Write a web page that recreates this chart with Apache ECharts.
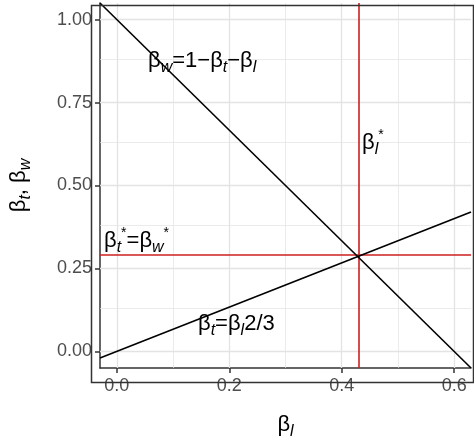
<!DOCTYPE html>
<html>
<head>
<meta charset="utf-8">
<script src="https://cdn.jsdelivr.net/npm/echarts@6/dist/echarts.min.js"></script>
</head>
<body style="margin:0">
<div id="main" style="width:474px;height:445px;"></div>
<script>
var xTicks = [0, 0.2, 0.4, 0.6];
var yTicks = [0, 0.25, 0.5, 0.75, 1.0];
var xMinor = [0.1, 0.3, 0.5];
var yMinor = [0.125, 0.375, 0.625, 0.875];
var lineW = [[-0.03, 1.05], [0.63, -0.05]];   // beta_w = 1 - beta_t - beta_l
var lineT = [[-0.03, -0.02], [0.63, 0.42]];   // beta_t = 2 beta_l / 3
var betaLStar = 0.4286;
var betaTStar = 0.2857;

var chart = echarts.init(document.getElementById('main'));
var F = 'Liberation Sans, Arial, sans-serif';
var rich = {
  n: {fontSize: 22, fontFamily: F, color: '#000', lineHeight: 30},
  s: {fontSize: 16, fontFamily: F, fontStyle: 'italic', color: '#000', verticalAlign: 'bottom', lineHeight: 22},
  p: {fontSize: 14, fontFamily: F, color: '#000', verticalAlign: 'top', lineHeight: 12}
};
function gridLines(vals, axis, w) {
  return vals.map(function (v) { var o = {}; o[axis] = v; o.lineStyle = {width: w}; return o; });
}
function txt(x, y, t) {
  return {type: 'text', left: x, top: y, z: 50, style: {text: t, rich: rich, font: '22px ' + F}};
}
chart.setOption({
  animation: false,
  grid: {left: 89, right: 3, top: 3, bottom: 65},
  xAxis: {
    type: 'value', min: -0.03, max: 0.63,
    name: '{n|β}{s|l}', nameLocation: 'middle', nameGap: 42,
    nameTextStyle: {rich: rich},
    axisLine: {onZero: false, lineStyle: {color: '#333', width: 1.5}},
    axisTick: {show: true, customValues: xTicks, length: 5, lineStyle: {color: '#333', width: 1.5}},
    axisLabel: {customValues: xTicks, color: '#4d4d4d', fontSize: 18, fontFamily: F, margin: 9,
      formatter: function (v) { return v.toFixed(1); }},
    splitLine: {show: false}
  },
  yAxis: {
    type: 'value', min: -0.05, max: 1.05,
    name: '{n|β}{s|t}{n|, β}{s|w}', nameLocation: 'middle', nameGap: 66,
    nameTextStyle: {rich: rich},
    axisLine: {show: true, onZero: false, lineStyle: {color: '#333', width: 1.5}},
    axisTick: {show: true, customValues: yTicks, length: 5, lineStyle: {color: '#333', width: 1.5}},
    axisLabel: {customValues: yTicks, color: '#4d4d4d', fontSize: 18, fontFamily: F, margin: 8,
      formatter: function (v) { return v.toFixed(2); }},
    splitLine: {show: false}
  },
  graphic: [
    {type: 'rect', left: 89, top: 3, shape: {width: 382, height: 377}, style: {fill: 'none', stroke: '#333', lineWidth: 1.5}, z: 100},
    txt(148, 50, '{n|β}{s|w}{n|=1−β}{s|t}{n|−β}{s|l}'),
    txt(362, 128, '{n|β}{s|l}{p|*}'),
    txt(104, 226, '{n|β}{s|t}{p|*}{n|=β}{s|w}{p|*}'),
    txt(198, 313, '{n|β}{s|t}{n|=β}{s|l}{n|2/3}')
  ],
  series: [
    {type: 'line', z: 1, data: [], markLine: {silent: true, symbol: 'none', label: {show: false},
      lineStyle: {color: '#e3e3e3', type: 'solid'},
      data: gridLines(xTicks, 'xAxis', 1.3).concat(gridLines(yTicks, 'yAxis', 1.3),
        gridLines(xMinor, 'xAxis', 0.7), gridLines(yMinor, 'yAxis', 0.7))}},
    {type: 'line', z: 5, data: lineW, symbol: 'none', lineStyle: {color: '#000', width: 1.6}},
    {type: 'line', z: 5, data: lineT, symbol: 'none', lineStyle: {color: '#000', width: 1.6}},
    {type: 'line', z: 4, data: [], markLine: {silent: true, symbol: 'none', label: {show: false},
      lineStyle: {color: '#cc1f1f', type: 'solid', width: 1.6},
      data: [{xAxis: betaLStar}, {yAxis: betaTStar}]}}
  ]
});
</script>
</body>
</html>
